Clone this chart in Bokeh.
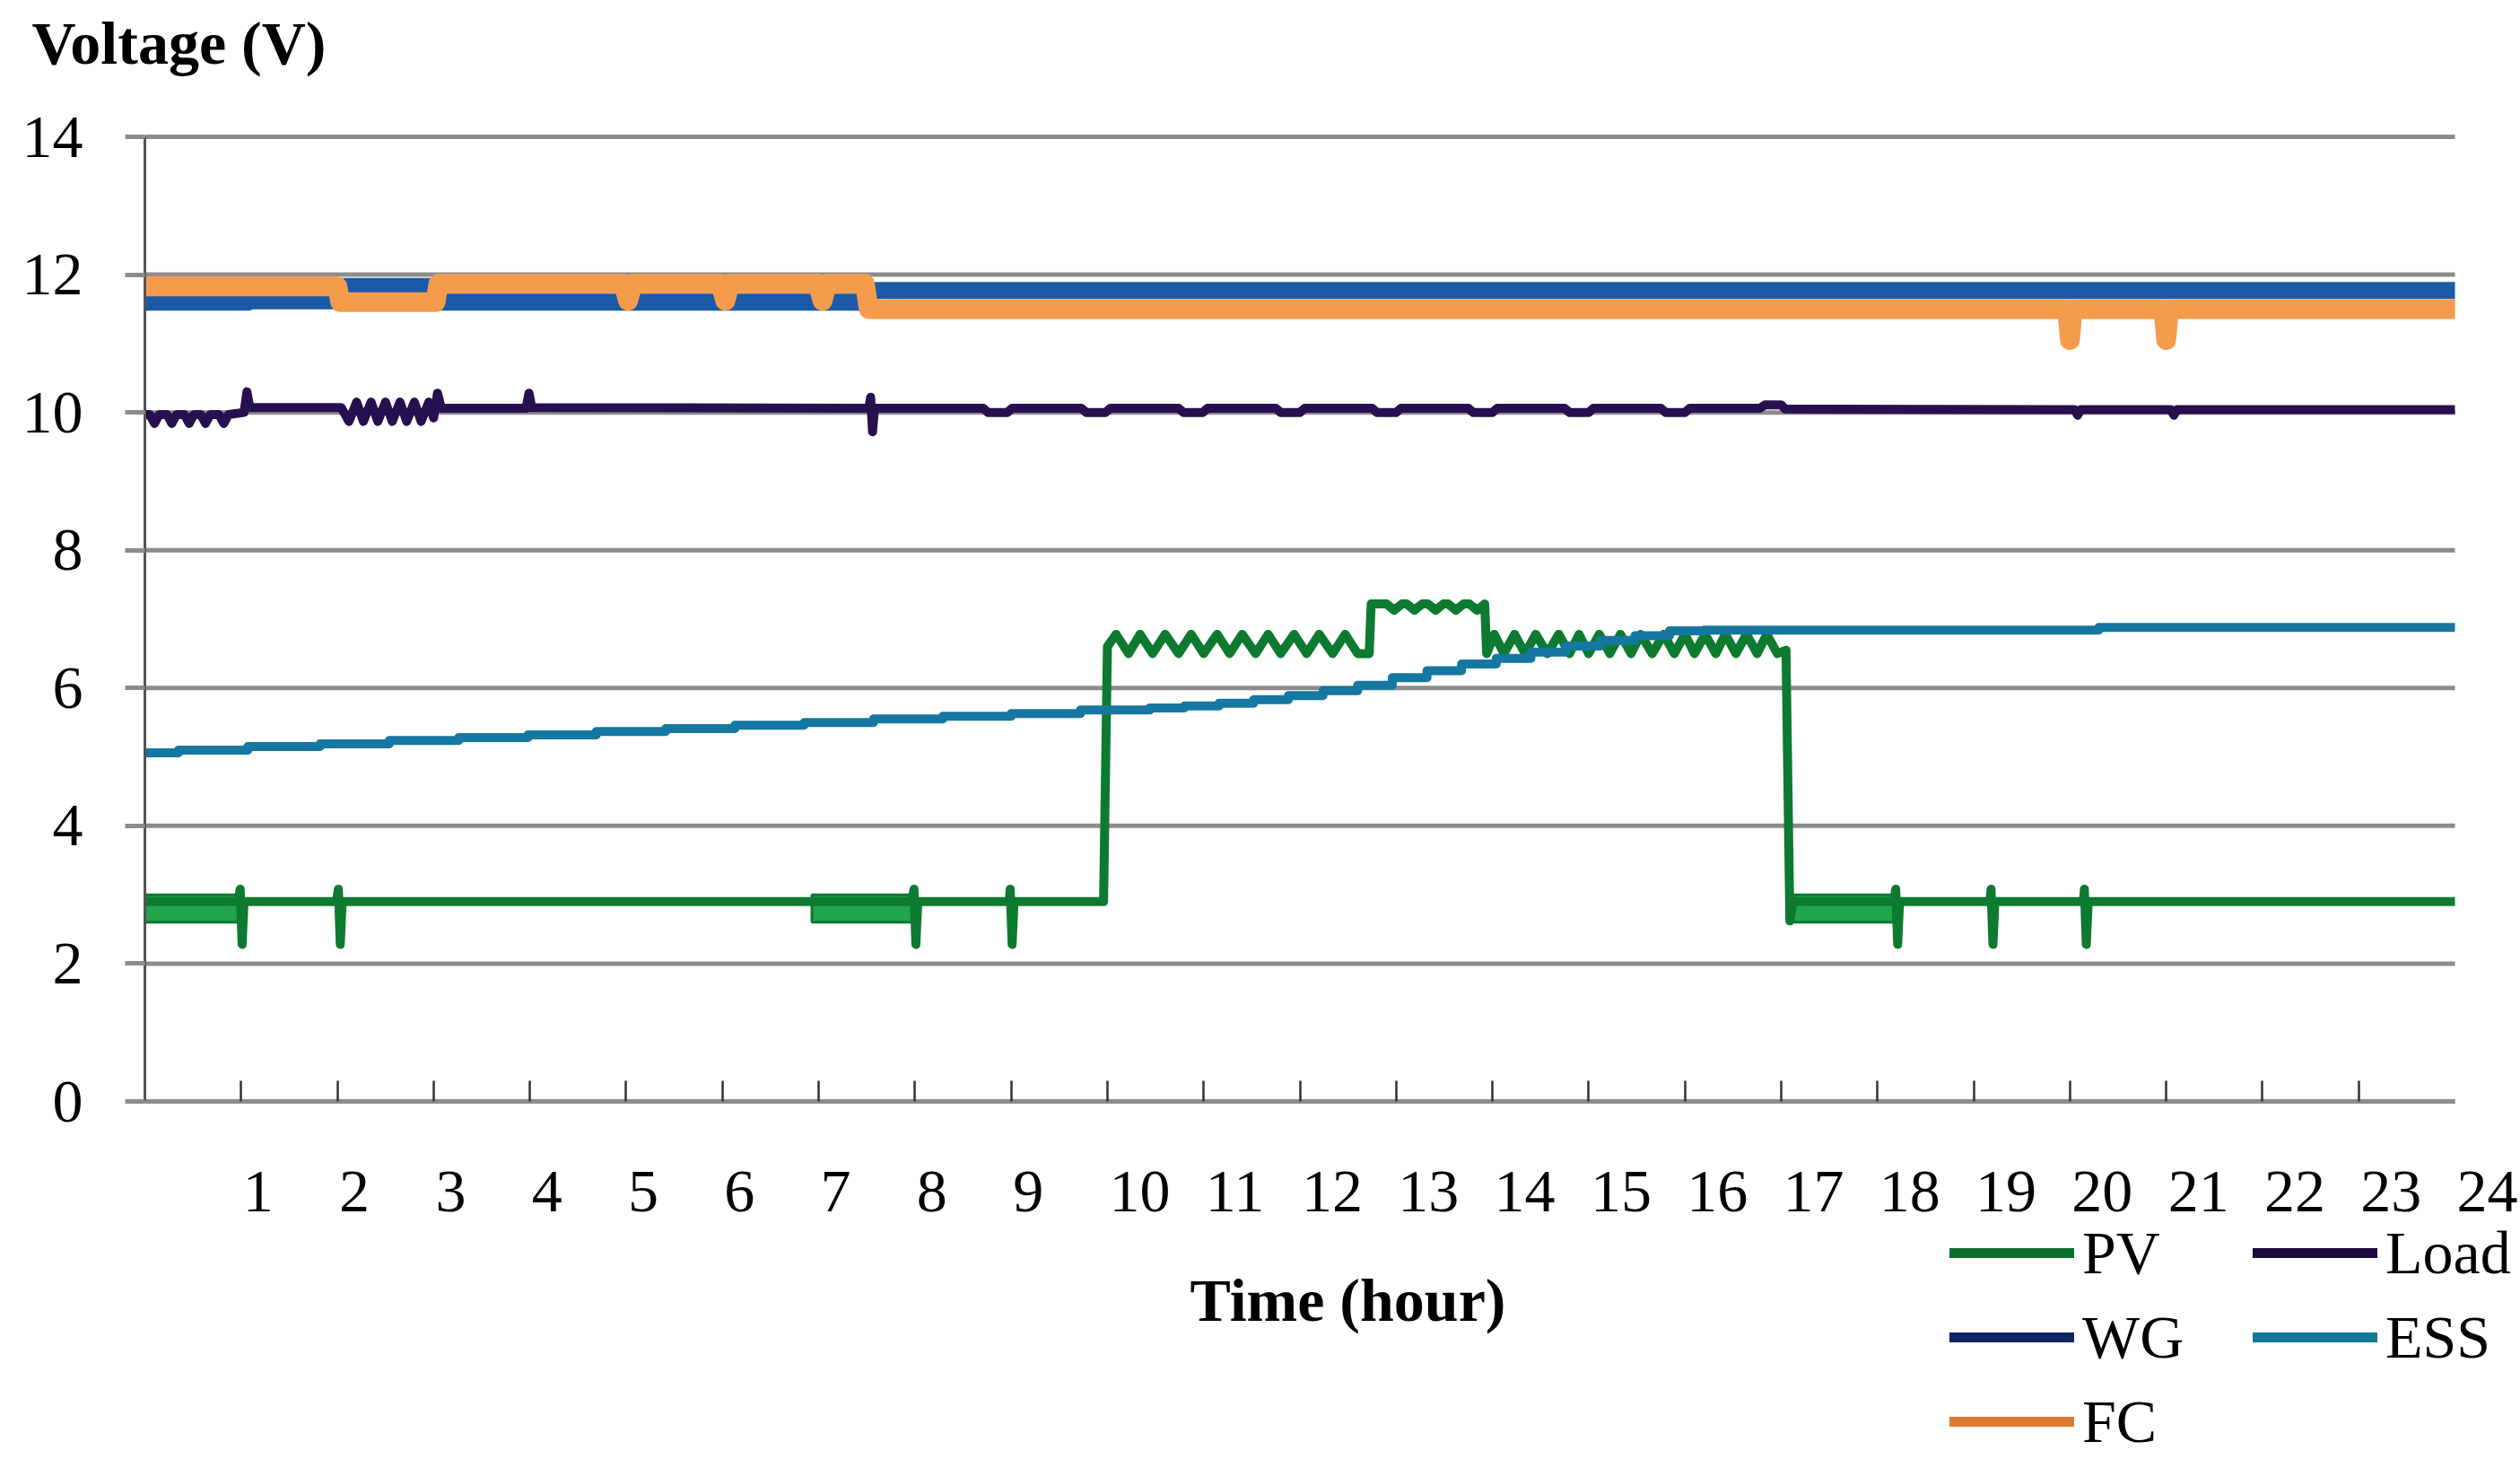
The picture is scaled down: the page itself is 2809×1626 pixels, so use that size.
from bokeh.plotting import figure
from bokeh.models import (Range1d, FixedTicker, Legend, LegendItem, Label,
                          ColumnDataSource, CustomJSTickFormatter)
from bokeh.core.properties import value
from bokeh.embed import file_html
from bokeh.resources import INLINE

# ---------------- data ----------------
hour_ticks = list(range(1, 25))
tick_labels = [str(h) for h in hour_ticks]
hour_marks = list(range(1, 24))
volt_ticks = [0, 2, 4, 6, 8, 10, 12, 14]

# PV main trace
pv_time = [0.00, 0.97, 0.99, 1.01, 1.03,
           1.99, 2.01, 2.03, 2.05,
           7.97, 7.99, 8.01, 8.03,
           8.98, 8.99, 9.01, 9.03,
           9.96, 10.00, 10.09, 10.22, 10.34, 10.47, 10.60, 10.74, 10.87, 11.00, 11.14,
           11.27, 11.40, 11.54, 11.67, 11.80, 11.94, 12.07, 12.20, 12.34, 12.47, 12.60, 12.72,
           12.74, 12.90, 12.98, 13.06, 13.11, 13.19, 13.27, 13.33, 13.41, 13.49, 13.54,
           13.62, 13.70, 13.76, 13.84, 13.92,
           13.94, 14.02, 14.12, 14.23, 14.34, 14.45, 14.57, 14.69, 14.80, 14.90, 15.00,
           15.11, 15.22, 15.33, 15.44, 15.54, 15.66, 15.78, 15.89, 16.00, 16.10, 16.21,
           16.32, 16.42, 16.53, 16.64, 16.75, 16.85, 16.96, 17.05,
           17.09, 17.12, 18.17, 18.19, 18.21, 18.23,
           19.17, 19.18, 19.20, 19.22,
           20.14, 20.15, 20.17, 20.19,
           24.00]
pv_volt = [2.90, 2.90, 3.08, 2.28, 2.90,
           2.90, 3.08, 2.28, 2.90,
           2.90, 3.08, 2.28, 2.90,
           2.90, 3.08, 2.28, 2.90,
           2.90, 6.60, 6.78, 6.50, 6.78, 6.50, 6.78, 6.50, 6.78, 6.50, 6.78,
           6.50, 6.78, 6.50, 6.78, 6.50, 6.78, 6.50, 6.78, 6.50, 6.78, 6.50, 6.50,
           7.22, 7.22, 7.13, 7.22, 7.22, 7.13, 7.22, 7.22, 7.13, 7.22, 7.22,
           7.13, 7.22, 7.22, 7.13, 7.22,
           6.50, 6.78, 6.50, 6.78, 6.50, 6.78, 6.50, 6.78, 6.50, 6.78, 6.50,
           6.78, 6.50, 6.78, 6.50, 6.78, 6.50, 6.78, 6.50, 6.78, 6.50, 6.78,
           6.50, 6.78, 6.50, 6.78, 6.50, 6.78, 6.50, 6.55,
           2.62, 2.90, 2.90, 3.08, 2.28, 2.90,
           2.90, 3.08, 2.28, 2.90,
           2.90, 3.08, 2.28, 2.90,
           2.90]
# PV ripple bands (fast oscillation envelope)
pv_band_start = [0.00, 6.93, 17.09]
pv_band_end = [0.97, 7.97, 18.17]
pv_band_low = [2.60, 2.60, 2.60]
pv_band_high = [3.00, 3.00, 3.00]

load_time = [0.00, 0.05, 0.10, 0.15, 0.23, 0.28, 0.33, 0.41, 0.46, 0.51, 0.58, 0.63, 0.68,
             0.77, 0.82, 0.87, 1.03, 1.06, 1.09,
             2.02, 2.04, 2.12, 2.20, 2.27, 2.35, 2.42, 2.50, 2.57, 2.65, 2.72, 2.80, 2.87,
             2.95, 3.00, 3.04, 3.08,
             3.96, 3.99, 4.02, 7.52, 7.54, 7.56, 7.58,
             8.71, 8.76, 8.96, 9.01, 9.73, 9.78, 9.98, 10.03, 10.74, 10.79, 10.99, 11.04,
             11.75, 11.80, 12.00, 12.05, 12.75, 12.80, 13.00, 13.05, 13.75, 13.80, 14.00, 14.05,
             14.75, 14.80, 15.00, 15.05, 15.75, 15.80, 16.00, 16.05,
             16.78, 16.83, 17.00, 17.04,
             20.05, 20.08, 20.11, 21.05, 21.08, 21.11, 24.00]
load_volt = [9.97, 9.97, 9.84, 9.97, 9.97, 9.84, 9.97, 9.97, 9.84, 9.97, 9.97, 9.84, 9.97,
             9.97, 9.84, 9.97, 10.00, 10.30, 10.07,
             10.07, 10.07, 9.87, 10.15, 9.87, 10.15, 9.87, 10.15, 9.87, 10.15, 9.87, 10.15, 9.87,
             10.15, 9.92, 10.28, 10.06,
             10.06, 10.28, 10.07, 10.06, 10.22, 9.72, 10.06,
             10.06, 10.00, 10.00, 10.06, 10.06, 10.00, 10.00, 10.06, 10.06, 10.00, 10.00, 10.06,
             10.06, 10.00, 10.00, 10.06, 10.06, 10.00, 10.00, 10.06, 10.06, 10.00, 10.00, 10.06,
             10.06, 10.00, 10.00, 10.06, 10.06, 10.00, 10.00, 10.06,
             10.06, 10.11, 10.11, 10.05,
             10.04, 9.96, 10.04, 10.04, 9.96, 10.04, 10.04]

wg_time = [0.00, 1.07, 1.08, 2.03, 2.05, 3.03, 3.05, 7.48, 7.52, 24.00]
wg_volt = [11.60, 11.60, 11.62, 11.62, 11.83, 11.83, 11.60, 11.60, 11.77, 11.77]

ess_time = [0.00, 0.35, 1.07, 1.82, 2.54, 3.26, 3.98, 4.69, 5.41, 6.13, 6.85, 7.57, 8.29,
            9.00, 9.72, 10.44, 10.80, 11.16, 11.52, 11.88, 12.24, 12.60, 12.96, 13.32,
            13.68, 14.04, 14.40, 14.76, 15.12, 15.48, 15.84, 16.20, 20.30, 24.00]
ess_volt = [5.06, 5.10, 5.15, 5.19, 5.24, 5.28, 5.32, 5.37, 5.41, 5.46, 5.50, 5.55, 5.59,
            5.63, 5.68, 5.71, 5.74, 5.78, 5.83, 5.89, 5.96, 6.04, 6.15, 6.25,
            6.35, 6.43, 6.52, 6.61, 6.69, 6.76, 6.83, 6.84, 6.88, 6.88]

fc_time = [0.00, 2.00, 2.03, 3.02, 3.05, 4.97, 5.02, 5.07, 5.98, 6.03, 6.08, 6.99, 7.04,
           7.09, 7.48, 7.52, 19.97, 20.00, 20.03, 20.97, 21.00, 21.03, 24.00]
fc_volt = [11.83, 11.83, 11.60, 11.60, 11.87, 11.87, 11.62, 11.87, 11.87, 11.62, 11.87, 11.87, 11.62,
           11.87, 11.87, 11.50, 11.50, 11.05, 11.50, 11.50, 11.05, 11.50, 11.50]

assert len(pv_time) == len(pv_volt)
assert len(load_time) == len(load_volt)
assert len(ess_time) == len(ess_volt)
assert len(fc_time) == len(fc_volt)

# ---------------- layout (pixels) ----------------
W, H = 2809, 1626
FRAME_L, FRAME_R, FRAME_T, FRAME_B = 161, 2736, 152, 1227
X_MAX, Y_MAX = 24, 14
xpp = X_MAX / (FRAME_R - FRAME_L)
ypp = Y_MAX / (FRAME_B - FRAME_T)
x_range = Range1d(-FRAME_L * xpp, X_MAX + (W - FRAME_R) * xpp)
y_range = Range1d(-(H - FRAME_B) * ypp, Y_MAX + FRAME_T * ypp)

C_PV = "#0d7a30"
C_PV_BAND = "#20a44c"
C_LOAD = "#26104f"
C_WG = "#1b5aa8"
C_ESS = "#1677a0"
C_FC = "#f59c4c"
GRID = "#8c8c8c"
SERIF = "Liberation Serif"

p = figure(width=W, height=H, min_border=0, title_location=None,
           x_range=x_range, y_range=y_range,
           output_backend="svg", toolbar_location=None,
           background_fill_color="white", border_fill_color="white",
           outline_line_color=None)

p.grid.visible = False

# horizontal gridlines across the plotting area
p.segment(x0=[0] * len(volt_ticks), x1=[X_MAX] * len(volt_ticks), y0=volt_ticks, y1=volt_ticks,
          line_color=GRID, line_width=5)

yax = p.yaxis[0]
yax.fixed_location = 0
yax.bounds = (0, Y_MAX)
yax.ticker = FixedTicker(ticks=volt_ticks)
yax.axis_line_color = "#555555"
yax.axis_line_width = 3
yax.major_tick_out = 22
yax.major_tick_in = 0
yax.major_tick_line_color = GRID
yax.major_tick_line_width = 5
yax.minor_tick_line_color = None
yax.major_label_text_font = SERIF
yax.major_label_text_font_size = "68px"
yax.major_label_text_color = "black"
yax.major_label_standoff = 47

xax = p.xaxis[0]
xax.fixed_location = 0
xax.bounds = (0, X_MAX)
xax.ticker = FixedTicker(ticks=hour_marks)
xax.axis_line_color = GRID
xax.axis_line_width = 5
xax.major_tick_in = 23
xax.major_tick_out = 0
xax.major_tick_line_color = "#333333"
xax.major_tick_line_width = 2.5
xax.minor_tick_line_color = None
xax.formatter = CustomJSTickFormatter(code="return ''")

# hour labels, set just right of each tick as in the original
lab_src = ColumnDataSource(dict(x=hour_ticks, y=[0] * len(hour_ticks), text=tick_labels))
p.text(x="x", y="y", text="text", source=lab_src, x_offset=2, y_offset=100,
       text_align="left", text_baseline="alphabetic", text_font=value(SERIF),
       text_font_size="68px", text_color="black")

# PV ripple bands
p.quad(left=pv_band_start, right=pv_band_end, bottom=pv_band_low, top=pv_band_high,
       fill_color=C_PV_BAND, line_color=C_PV, line_width=3)

p.line(pv_time, pv_volt, line_color=C_PV, line_width=10, line_join="round", line_cap="butt")
p.line(load_time, load_volt, line_color=C_LOAD, line_width=10, line_join="round", line_cap="butt")
p.line(wg_time, wg_volt, line_color=C_WG, line_width=19, line_join="round", line_cap="butt")
p.step(ess_time, ess_volt, mode="after", line_color=C_ESS, line_width=10, line_join="round")
p.line(fc_time, fc_volt, line_color=C_FC, line_width=22, line_join="round", line_cap="butt")

# legend proxies (legend line style); a single point draws nothing in the plot
lg = dict(line_width=11, line_cap="round")
r_pv = p.line(pv_time[:1], pv_volt[:1], line_color="#0b6e2c", **lg)
r_load = p.line(load_time[:1], load_volt[:1], line_color="#1a0a3c", **lg)
r_wg = p.line(wg_time[:1], wg_volt[:1], line_color="#0d2563", **lg)
r_ess = p.line(ess_time[:1], ess_volt[:1], line_color="#157898", **lg)
r_fc = p.line(fc_time[:1], fc_volt[:1], line_color="#e07a30", **lg)

leg_style = dict(orientation="vertical", glyph_width=139, label_standoff=9,
                 spacing=0, padding=0, margin=0, border_line_color=None,
                 background_fill_alpha=0, label_text_font=SERIF,
                 label_text_font_size="68px", label_text_color="black")
leg1 = Legend(items=[LegendItem(label="PV", renderers=[r_pv]),
                     LegendItem(label="WG", renderers=[r_wg])],
              location=(2173, H - 1537), glyph_height=94, **leg_style)
leg2 = Legend(items=[LegendItem(label="Load", renderers=[r_load]),
                     LegendItem(label="ESS", renderers=[r_ess])],
              location=(2511, H - 1537), glyph_height=94, **leg_style)
leg3 = Legend(items=[LegendItem(label="FC", renderers=[r_fc])],
              location=(2173, H - 1624), glyph_height=80, **leg_style)
p.add_layout(leg1)
p.add_layout(leg2)
p.add_layout(leg3)

p.add_layout(Label(x=35, y=H - 47, x_units="screen", y_units="screen", text="Voltage (V)",
                   text_font=SERIF, text_font_style="bold", text_font_size="68px",
                   text_color="black", text_align="left", text_baseline="alphabetic"))
p.add_layout(Label(x=1326, y=H - 1448, x_units="screen", y_units="screen", text="Time (hour)",
                   text_font=SERIF, text_font_style="bold", text_font_size="68px",
                   text_color="black", text_align="left", text_baseline="alphabetic"))

open("out.html", "w").write(file_html(p, INLINE))
